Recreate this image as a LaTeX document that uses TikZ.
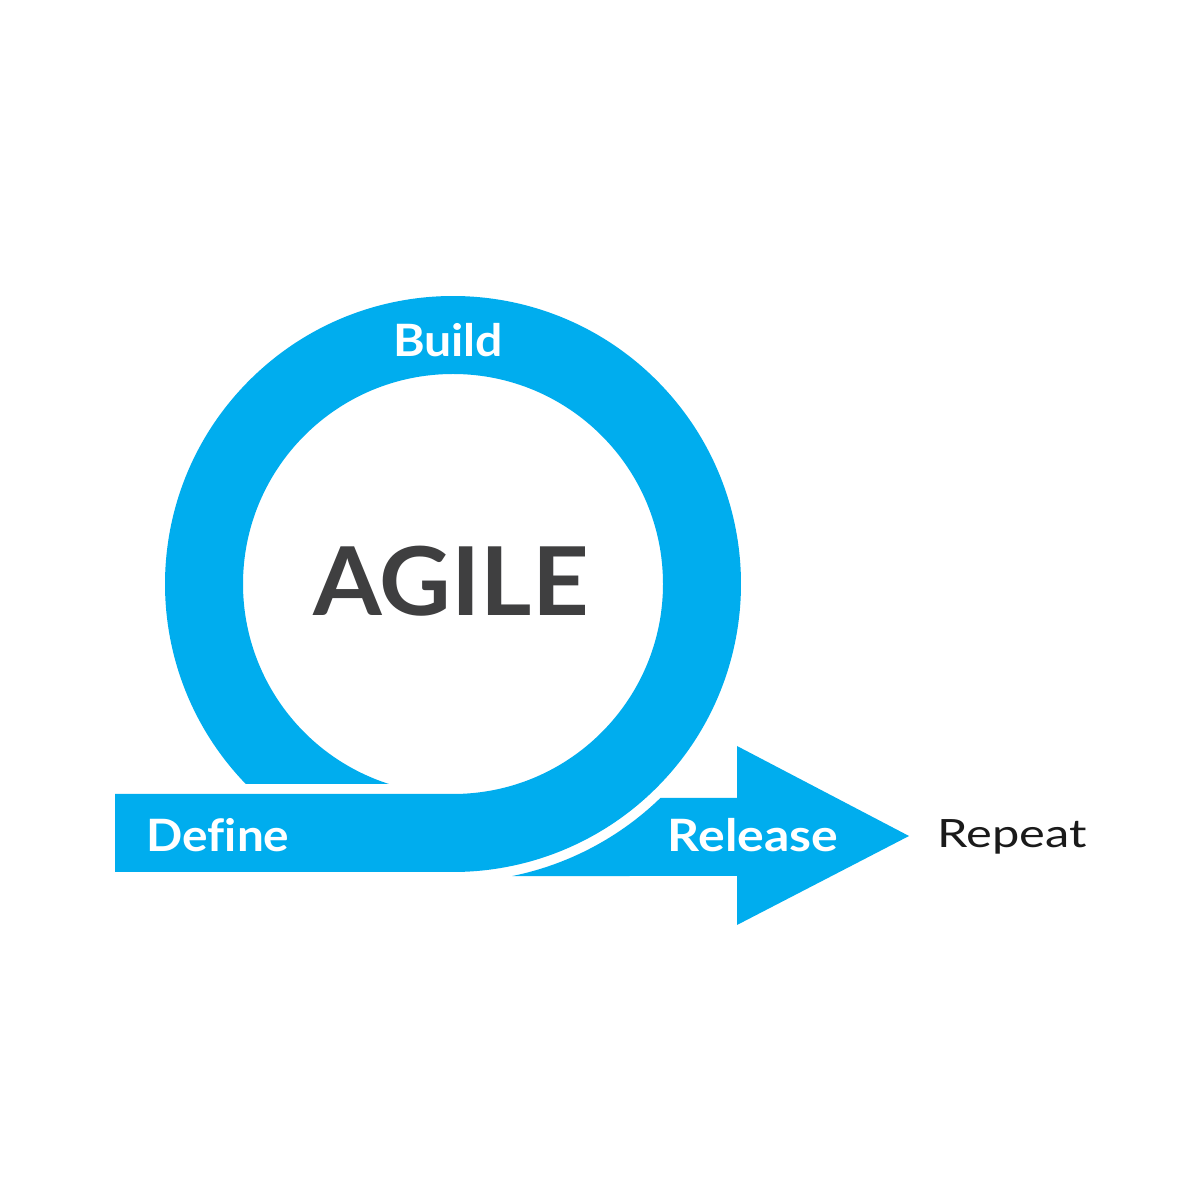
\documentclass[tikz,border=0pt]{standalone}
\usepackage{fontspec}
\setmainfont{Lato}[Ligatures=NoCommon]
\usetikzlibrary{calc}
\definecolor{agileblue}{HTML}{00ADEE}
\definecolor{agilegray}{HTML}{3F3F40}
\definecolor{repeatblack}{HTML}{1A1A1A}
\begin{document}
\begin{tikzpicture}[x=0.5pt,y=0.5pt,
  shapefill/.style={fill=agileblue},
  lbl/.style={text=white,font=\fontsize{22.3}{24}\selectfont\bfseries,anchor=base,inner sep=0pt}]
\fill[white] (0,0) rectangle (1200,1200);
\useasboundingbox (0,0) rectangle (1200,1200);
\coordinate (C) at (453,616);
% loop and Define bar
\fill[shapefill] ($(C)+(252.25:210)$) -- ($(C)+(223.98:288)$)
  arc[start angle=223.98, end angle=-90, radius=288]
  -- (115,328) -- (115,406) -- (453,406)
  arc[start angle=270, end angle=612.25, radius=210] -- cycle;
% Release arrow
\fill[shapefill] ($(C)+(-78.5:298)$)
  arc[start angle=-78.5, end angle=-45.9, radius=298]
  -- (737,402) -- (737,454) -- (909,364) -- (737,275) -- (737,324) -- cycle;
% labels
\node[lbl] (build) at (448,843) {\scalebox{1.08}[1]{Build}};
\node[lbl] (define) at (218,348) {\scalebox{1.07}[1]{Define}};
\node[lbl] (release) at (753,348) {\scalebox{1.12}[1]{Release}};
\node[anchor=base,inner sep=0pt,text=agilegray,font=\fontsize{47.5}{50}\selectfont\bfseries] (agile) at (451,584) {\scalebox{1.04}[1]{AGILE}};
\node[anchor=base,inner sep=0pt,text=repeatblack,font=\fontsize{19.5}{22}\selectfont] (repeat) at (1012,352) {\scalebox{1.25}[1]{Repeat}};
\end{tikzpicture}
\end{document}
